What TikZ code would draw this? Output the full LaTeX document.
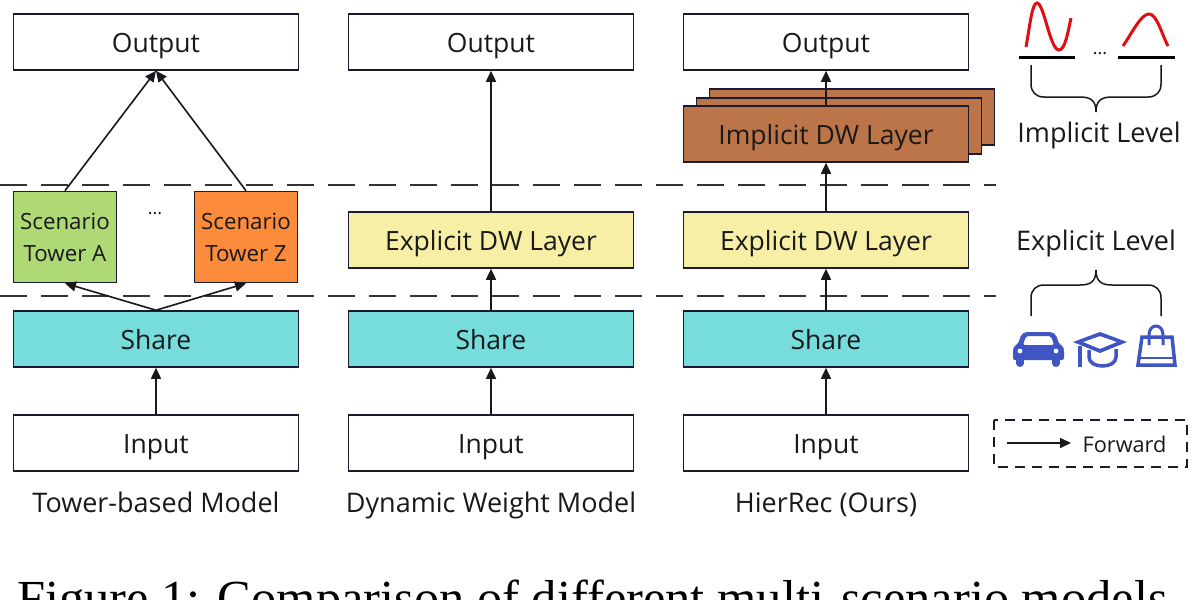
\documentclass[tikz,border=0pt]{standalone}
\usepackage{fontspec}
\setmainfont{Open Sans}
\newfontfamily\capfont{Liberation Serif}
\usetikzlibrary{arrows.meta}
\definecolor{edge}{HTML}{1A1A30}
\definecolor{sharec}{HTML}{76DDDC}
\definecolor{dwc}{HTML}{F7EFA5}
\definecolor{impc}{HTML}{BC7549}
\definecolor{greenc}{HTML}{AFD975}
\definecolor{orangec}{HTML}{FC8B3B}
\definecolor{iconc}{HTML}{3F55C4}
\definecolor{redc}{HTML}{E00E12}
\tikzset{
 x=1pt,y=-1pt,
 base/.style={draw=edge,line width=1.6pt,minimum width=285pt,minimum height=56pt,inner sep=0pt,align=center,font=\fontsize{26.5}{30}\selectfont,text=black!90},
 oneline/.style={base,text height=22pt,text depth=2pt},
 plainbox/.style={oneline,fill=white},
 sharebox/.style={oneline,fill=sharec},
 dwbox/.style={oneline,fill=dwc},
 impbox/.style={oneline,fill=impc},
 tower/.style={base,minimum width=103pt,minimum height=91pt,font=\fontsize{22.3}{32}\selectfont},
 arr/.style={line width=1.6pt,draw=black!90,-{Triangle[length=11pt,width=10pt]}},
 sep/.style={draw=black!80,line width=1.5pt,dash pattern=on 27pt off 14pt},
 lab/.style={font=\fontsize{27}{30}\selectfont,text=black!90,inner sep=0pt,anchor=base},
 dots/.style={font=\fontsize{18}{20}\selectfont,text=black!90,inner sep=0pt},
 brace/.style={draw=black!90,line width=1.5pt},
 curve/.style={draw=redc,line width=3pt},
 bar/.style={draw=black,line width=3pt},
 icon/.style={fill=iconc,draw=none},
 iconl/.style={draw=iconc,line width=3.5pt,fill=none},
}
\begin{document}
\begin{tikzpicture}
\useasboundingbox (0,0) rectangle (1200,600);
\clip (0,0) rectangle (1200,600);
\fill[white] (0,0) rectangle (1200,600);
% separators
\coordinate (sa1) at (0,185); \coordinate (sa2) at (996,185);
\coordinate (sb1) at (0,296); \coordinate (sb2) at (996,296);
\draw[sep] (sa1) -- (sa2);
\draw[sep] (sb1) -- (sb2);
% column 1
\node[plainbox] (o1) at (156,42) {Output};
\node[sharebox] (s1) at (156,339) {Share};
\node[plainbox] (i1) at (156,443) {Input};
\node[tower,fill=greenc] (ta) at (65,237) {Scenario\\Tower A};
\node[tower,fill=orangec] (tz) at (246,237) {Scenario\\Tower Z};
\node[dots] (d1) at (155,214) {...};
\node[lab] (c1) at (156,512) {Tower-based Model};
\draw[arr] (ta.north) -- (o1.south);
\draw[arr] (tz.north) -- (o1.south);
\draw[arr] (s1.north) -- (ta.south);
\draw[arr] (s1.north) -- (tz.south);
\draw[arr] (i1.north) -- (s1.south);
% column 2
\node[plainbox] (o2) at (491,42) {Output};
\node[dwbox] (e2) at (491,240) {Explicit DW Layer};
\node[sharebox] (s2) at (491,339) {Share};
\node[plainbox] (i2) at (491,443) {Input};
\node[lab] (c2) at (491,512) {Dynamic Weight Model};
\draw[arr] (e2.north) -- (o2.south);
\draw[arr] (s2.north) -- (e2.south);
\draw[arr] (i2.north) -- (s2.south);
% column 3
\node[plainbox] (o3) at (826,42) {Output};
\node[impbox] (m3b) at (852,117) {};
\node[impbox] (m3a) at (839,126) {};
\node[impbox] (m3) at (826,134) {Implicit DW Layer};
\node[dwbox] (e3) at (826,240) {Explicit DW Layer};
\node[sharebox] (s3) at (826,339) {Share};
\node[plainbox] (i3) at (826,443) {Input};
\node[lab] (c3) at (826,512) {HierRec (Ours)};
\draw[arr] (m3.north) -- (o3.south);
\draw[arr] (e3.north) -- (m3.south);
\draw[arr] (s3.north) -- (e3.south);
\draw[arr] (i3.north) -- (s3.south);
% right side: implicit
\draw[curve] (1026,47) .. controls (1030,25) and (1032,3) .. (1037,3) .. controls (1044,3) and (1050,50) .. (1059,50) .. controls (1065,50) and (1068,32) .. (1071,18);
\draw[curve] (1123,46) .. controls (1132,33) and (1141,14) .. (1149,14) .. controls (1157,14) and (1162,35) .. (1168,46);
\draw[bar] (1019,57) -- (1075,57);
\draw[bar] (1118,57) -- (1175,57);
\node[dots] (d2) at (1100,54) {...};
\draw[brace] (1031,65) -- (1031,84) .. controls (1031,92) and (1036,97) .. (1044,97) -- (1080,97) .. controls (1090,97) and (1096,100) .. (1096,112);
\draw[brace] (1161,65) -- (1161,84) .. controls (1161,92) and (1156,97) .. (1148,97) -- (1112,97) .. controls (1102,97) and (1096,100) .. (1096,112);
\node[lab] (il) at (1099,142) {Implicit Level};
% right side: explicit
\node[lab] (el) at (1096,250) {Explicit Level};
\draw[brace] (1031,316) -- (1031,298) .. controls (1031,290) and (1036,285) .. (1044,285) -- (1080,285) .. controls (1090,285) and (1096,282) .. (1096,270);
\draw[brace] (1161,316) -- (1161,298) .. controls (1161,290) and (1156,285) .. (1148,285) -- (1112,285) .. controls (1102,285) and (1096,282) .. (1096,270);
% car
\fill[icon,even odd rule,rounded corners=2pt] (1013,350) -- (1014,346) -- (1018,344) -- (1021,335) -- (1025,332) -- (1052,332) -- (1056,335) -- (1059,344) -- (1063,346) -- (1064,350) -- (1064,360) -- (1013,360) -- cycle
 (1023,345) -- (1026,336) -- (1051,336) -- (1054,345) -- cycle;
\fill[icon] (1016,358) rectangle (1024,364);
\fill[icon] (1052,358) rectangle (1060,364);
\fill[icon] (1020,363) circle (4pt);
\fill[icon] (1056,363) circle (4pt);
\fill[white] (1020,351) circle (2.4pt);
\fill[white] (1056,351) circle (2.4pt);
% cap
\fill[icon,even odd rule] (1073,342) -- (1100,332) -- (1127,342) -- (1100,353) -- cycle
 (1083,342) -- (1100,349) -- (1117,342) -- (1100,336) -- cycle;
\draw[iconl] (1080,346) -- (1080,367);
\draw[iconl] (1089,350) -- (1089,357) .. controls (1089,369) and (1116,369) .. (1116,357) -- (1116,349);
% bag
\draw[iconl] (1138,365) -- (1142,337) -- (1172,337) -- (1175,365) -- cycle;
\draw[iconl,line width=2.5pt] (1140,358) -- (1173,358);
\draw[iconl,line width=3pt] (1149,345) -- (1149,335) .. controls (1149,323) and (1163,323) .. (1163,335) -- (1163,345);
% legend
\coordinate (lga) at (994,420); \coordinate (lgb) at (1187,467);
\draw[draw=edge,line width=1.5pt,dash pattern=on 10pt off 7pt] (lga) rectangle (lgb);
\node[lab,font=\fontsize{21.7}{28}\selectfont] (fw) at (1124.5,452) {Forward};
\coordinate (fa) at (1007,443);
\coordinate (fb) at (1071,443);
\draw[arr] (fa) -- (fb);
% caption
\node[anchor=base west,inner sep=0pt,font=\capfont\fontsize{50.5}{56}\selectfont,text=black] (cap) at (17,615) {Figure 1: Comparison of different multi-scenario models};
\end{tikzpicture}
\end{document}
